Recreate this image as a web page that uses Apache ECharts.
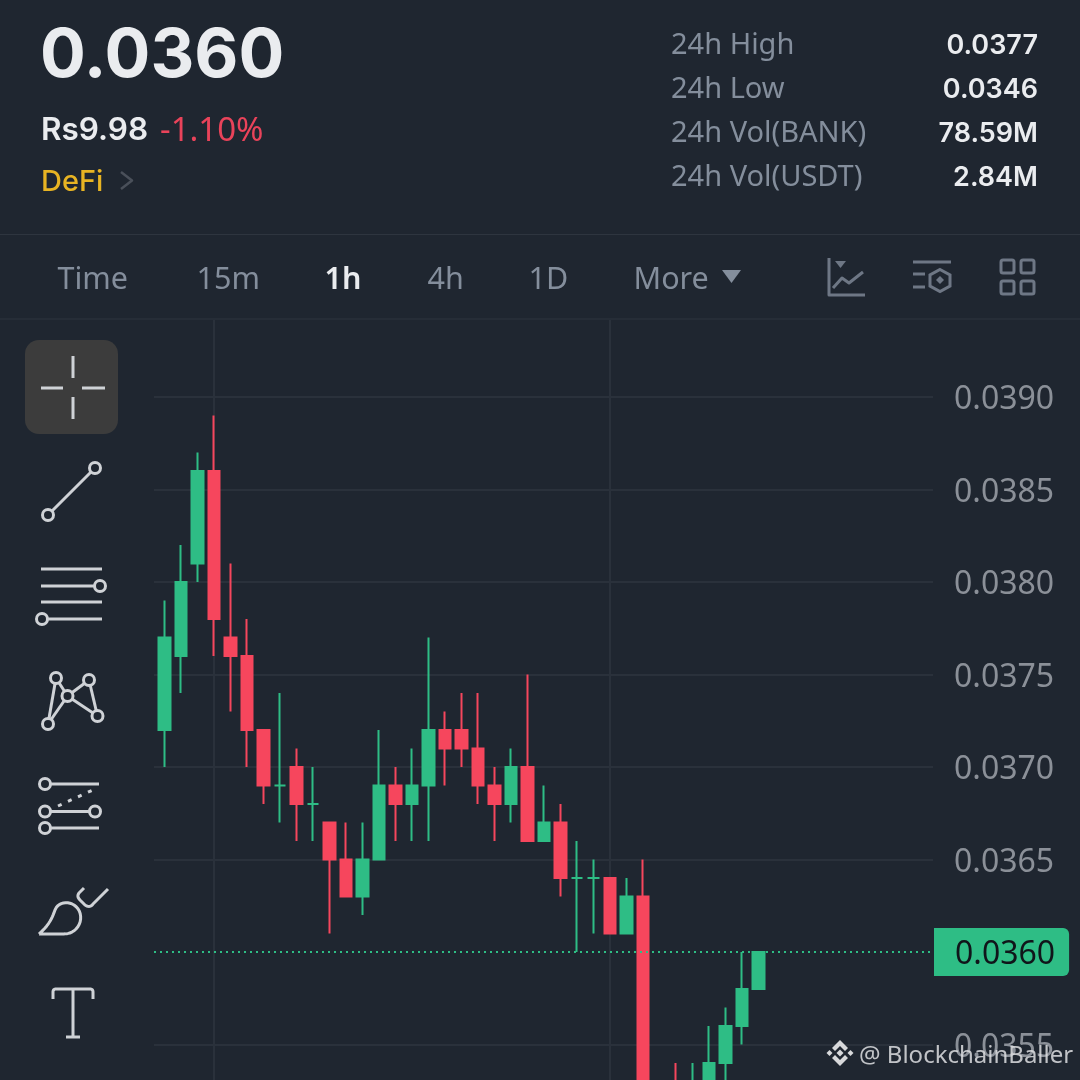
<!DOCTYPE html>
<html>
<head>
<meta charset="utf-8">
<style>html,body{margin:0;padding:0;background:#1F2630}#c{width:1080px;height:1080px}</style>
<script src="https://cdn.jsdelivr.net/npm/echarts@6/dist/echarts.min.js"></script>
</head>
<body>
<div id="c"></div>
<script>
const candleIndex = [0,1,2,3,4,5,6,7,8,9,10,11,12,13,14,15,16,17,18,19,20,21,22,23,24,25,26,27,28,29,30,31,32,33,34,35,36];
const opens  = [.0372,.0376,.0381,.0386,.0377,.0376,.0372,.0369,.0370,.0368,.0367,.0365,.0363,.0365,.0369,.0368,.0369,.0372,.0372,.0371,.0369,.0368,.0370,.0366,.0367,.0364,.0364,.0364,.0361,.0363,.0351,.0352,.0350,.0352,.0354,.0356,.0358];
const closes = [.0377,.0380,.0386,.0378,.0376,.0372,.0369,.0369,.0368,.0368,.0365,.0363,.0365,.0369,.0368,.0369,.0372,.0371,.0371,.0369,.0368,.0370,.0366,.0367,.0364,.0364,.0364,.0361,.0363,.0351,.0349,.0350,.0352,.0354,.0356,.0358,.0360];
const lows   = [.0370,.0374,.0380,.0376,.0373,.0370,.0368,.0367,.0366,.0366,.0361,.0363,.0362,.0365,.0366,.0366,.0366,.0369,.0370,.0368,.0366,.0367,.0366,.0366,.0363,.0360,.0361,.0361,.0361,.0349,.0348,.0349,.0349,.0351,.0352,.0355,.0358];
const highs  = [.0379,.0382,.0387,.0389,.0381,.0378,.0372,.0374,.0371,.0370,.0367,.0367,.0367,.0372,.0370,.0371,.0377,.0373,.0374,.0374,.0370,.0371,.0375,.0369,.0368,.0366,.0365,.0364,.0364,.0365,.0352,.0354,.0354,.0356,.0357,.0360,.0360];
const priceTicks = [.0355,.0365,.0370,.0375,.0380,.0385,.0390];
const verticalGrid = [3,27];
const lastPrice = .0360;
const headerPrice = '0.0360';
const statLabels = ['24h High','24h Low','24h Vol(BANK)','24h Vol(USDT)'];
const statValues = ['0.0377','0.0346','78.59M','2.84M'];
const tabs = ['Time','15m','1h','4h','1D','More'];

const UP='#2EBD85', DOWN='#F6465D', BG='#1F2630', GRID='#2A313B', GREY='#848E9C', WHITE='#EAECEF', ICON='#CFD2D6', DIM='#6E7785';
const SANS='"Noto Sans",sans-serif', HEAD='Inter,sans-serif';

const g=[];
const T=(x,y,text,fill,font,align)=>g.push({type:'text',x,y,z:50,style:{text,fill,font,align:align||'left',verticalAlign:'middle'}});
const L=(pts,stroke,w)=>g.push({type:'polyline',z:50,shape:{points:pts},style:{fill:null,stroke,lineWidth:w,lineCap:'butt',lineJoin:'round'}});
const C=(cx,cy,r,stroke,w)=>g.push({type:'circle',z:51,shape:{cx,cy,r},style:{fill:BG,stroke,lineWidth:w}});
const P=(pts,fill,z)=>g.push({type:'polygon',z:z||50,shape:{points:pts},style:{fill}});
const B=(start,segs)=>{const pts=[start];let p=start;segs.forEach(s=>{
  if(s.length===2){pts.push(s);p=s;return;}
  for(let k=1;k<=10;k++){const t=k/10,u=1-t;pts.push([u*u*u*p[0]+3*u*u*t*s[0]+3*u*t*t*s[2]+t*t*t*s[4],u*u*u*p[1]+3*u*u*t*s[1]+3*u*t*t*s[3]+t*t*t*s[5]]);}
  p=[s[4],s[5]];});return pts;};

// header
T(40,57,headerPrice,WHITE,'700 68px '+HEAD);
T(41,131,'Rs9.98',WHITE,'600 31.5px '+HEAD);
T(160,132,'-1.10%','#E9435A','400 33px '+SANS);
T(41,182,'DeFi','#E8B423','500 29px '+HEAD);
L([[121,172],[132,180.5],[121,189]],'#4A505A',2.5);
[44,88,132,176].forEach((y,i)=>{
  T(671,y+2,statLabels[i],GREY,'29px '+SANS);
  T(1038,y+2,statValues[i],WHITE,'600 27px '+HEAD,'right');
});
g.push({type:'rect',z:40,shape:{x:0,y:234,width:1080,height:1},style:{fill:'#2E353F'}});
g.push({type:'rect',z:40,shape:{x:0,y:318,width:1080,height:2},style:{fill:'#262D37'}});
[58,197,325,428,529,634].forEach((x,i)=>{
  T(x-0.5,280.5,tabs[i],i===2?WHITE:GREY,(i===2?'600 ':'')+'30.5px '+SANS);
});
P([[722,270],[741,270],[731.5,283]],GREY);
// top-right icons
L([[829,258],[829,295],[865,295]],DIM,3);
P([[835,261],[846,261],[840.5,268]],DIM);
L([[833,288],[842,278],[849,283],[863,272]],DIM,3);
L([[913,262],[951,262]],DIM,3);
L([[913,274],[925,274]],DIM,3);
L([[913,287],[925,287]],DIM,3);
g.push({type:'polygon',z:50,shape:{points:[[940,269.5],[950,275],[950,286],[940,291.5],[930,286],[930,275]]},style:{fill:null,stroke:DIM,lineWidth:3}});
P([[940,276],[944,280],[940,284],[936,280]],DIM);
[[1001,260],[1021,260],[1001,281],[1021,281]].forEach(p=>g.push({type:'rect',z:50,shape:{x:p[0],y:p[1],width:13,height:13,r:2},style:{fill:null,stroke:DIM,lineWidth:3}}));
// left toolbar
g.push({type:'rect',z:40,shape:{x:25,y:340,width:93,height:94,r:14},style:{fill:'#3C3C3C'}});
const W=3,R=5.5;
L([[73,356],[73,378]],ICON,W);L([[73,397],[73,419]],ICON,W);L([[41,388],[63,388]],ICON,W);L([[82,388],[105,388]],ICON,W);
L([[48,515],[95,468]],ICON,W);C(48,515,R,ICON,W);C(95,468,R,ICON,W);
L([[41,569],[102,569]],ICON,W);L([[41,586],[100,586]],ICON,W);C(100,586,R,ICON,W);L([[41,602],[102,602]],ICON,W);L([[42,619],[102,619]],ICON,W);C(42,619,R,ICON,W);
[[[56,678],[48,724]],[[56,678],[67.5,696]],[[48,724],[67.5,696]],[[67.5,696],[89,680]],[[67.5,696],[97.5,716]],[[89,680],[97.5,716]]].forEach(s=>L(s,ICON,W));
[[56,678],[89,680],[67.5,696],[48,724],[97.5,716]].forEach(p=>C(p[0],p[1],R,ICON,W));
L([[45,784],[99,784]],ICON,W);C(45,784,R,ICON,W);
g.push({type:'line',z:50,shape:{x1:58,y1:806,x2:95,y2:789},style:{stroke:ICON,lineWidth:W,lineDash:[4,7]}});
L([[45,811.5],[95,811.5]],ICON,W);C(45,811.5,R,ICON,W);C(95,811.5,R,ICON,W);
L([[45,828],[99,828]],ICON,W);C(45,828,R,ICON,W);
L(B([39,934],[[50,924,52,918,55,910],[58,902,68,901,74,905],[82,910,83,922,76,929],[72,933,68,934,62,934],[39,934]]),ICON,W);
L(B([84,888],[[79,893],[77,896,78,898,80,900],[85,905],[88,907,91,907,93,904],[108,889]]),ICON,W);
L(B([53,999],[[53,992],[53,990,54,989,56,989],[90,989],[92,989,93,990,93,992],[93,999]]),ICON,W);
L([[73,989],[73,1037]],ICON,W);L([[66,1037],[80,1037]],ICON,W);
// watermark
const WM='#D8D9DB';
P([[840,1049.5],[843.5,1053],[840,1056.5],[836.5,1053]],WM,60);
P([[829.5,1050],[832.5,1053],[829.5,1056],[826.5,1053]],WM,60);
P([[850.5,1050],[853.5,1053],[850.5,1056],[847.5,1053]],WM,60);
P([[840,1040],[848,1048],[845,1051],[840,1046],[835,1051],[832,1048]],WM,60);
P([[840,1066],[848,1058],[845,1055],[840,1060],[835,1055],[832,1058]],WM,60);
g.push({type:'text',x:859,y:1056,z:60,style:{text:'@ BlockchainBaller',fill:'rgba(222,223,226,0.85)',font:'24px '+SANS,align:'left',verticalAlign:'middle',shadowColor:'rgba(0,0,0,0.6)',shadowBlur:2,shadowOffsetY:1}});

const chart=echarts.init(document.getElementById('c'),null,{renderer:'canvas',width:1080,height:1080});
const candleData=candleIndex.map((x,i)=>[x,opens[i],closes[i],lows[i],highs[i]]);
const yTop=.0390+(397-320)/185*.001, yBottom=.0390-(1080-397)/185*.001;
const xMin=-10.5/16.5, xMax=768.5/16.5;
chart.setOption({
  animation:false,
  backgroundColor:BG,
  grid:{left:154,top:320,width:779,height:760,containLabel:false},
  xAxis:{type:'value',min:xMin,max:xMax,
    axisLine:{show:false},axisTick:{show:false,customValues:verticalGrid},axisLabel:{show:false},
    splitLine:{show:true,lineStyle:{color:GRID,width:2}}},
  yAxis:{type:'value',position:'right',min:yBottom,max:yTop,
    axisLine:{show:false},axisTick:{show:false,customValues:priceTicks},
    axisLabel:{customValues:priceTicks,formatter:v=>v.toFixed(4),color:'#8B9098',fontSize:32,fontFamily:'Noto Sans',margin:21,verticalAlign:'top',lineHeight:6},
    splitLine:{show:true,lineStyle:{color:GRID,width:2}}},
  series:[{
    type:'candlestick',
    data:candleData,
    barWidth:12,
    clip:true,
    itemStyle:{color:UP,color0:DOWN,borderColor:UP,borderColor0:DOWN,borderWidth:2},
    markLine:{silent:true,symbol:'none',animation:false,
      lineStyle:{color:UP,width:2,type:[2,4]},
      label:{show:true,position:'end',distance:1,formatter:()=>'{a|'+lastPrice.toFixed(4)+'}',
        backgroundColor:UP,padding:[3,14,3,21],borderRadius:[0,6,6,0],
        rich:{a:{color:'#10151A',fontSize:32,fontFamily:'Noto Sans',lineHeight:42,padding:[6,0,0,0]}}},
      data:[[{coord:[xMin,lastPrice]},{coord:[xMax,lastPrice]}]]}
  }],
  graphic:{elements:g}
});
</script>
</body>
</html>
